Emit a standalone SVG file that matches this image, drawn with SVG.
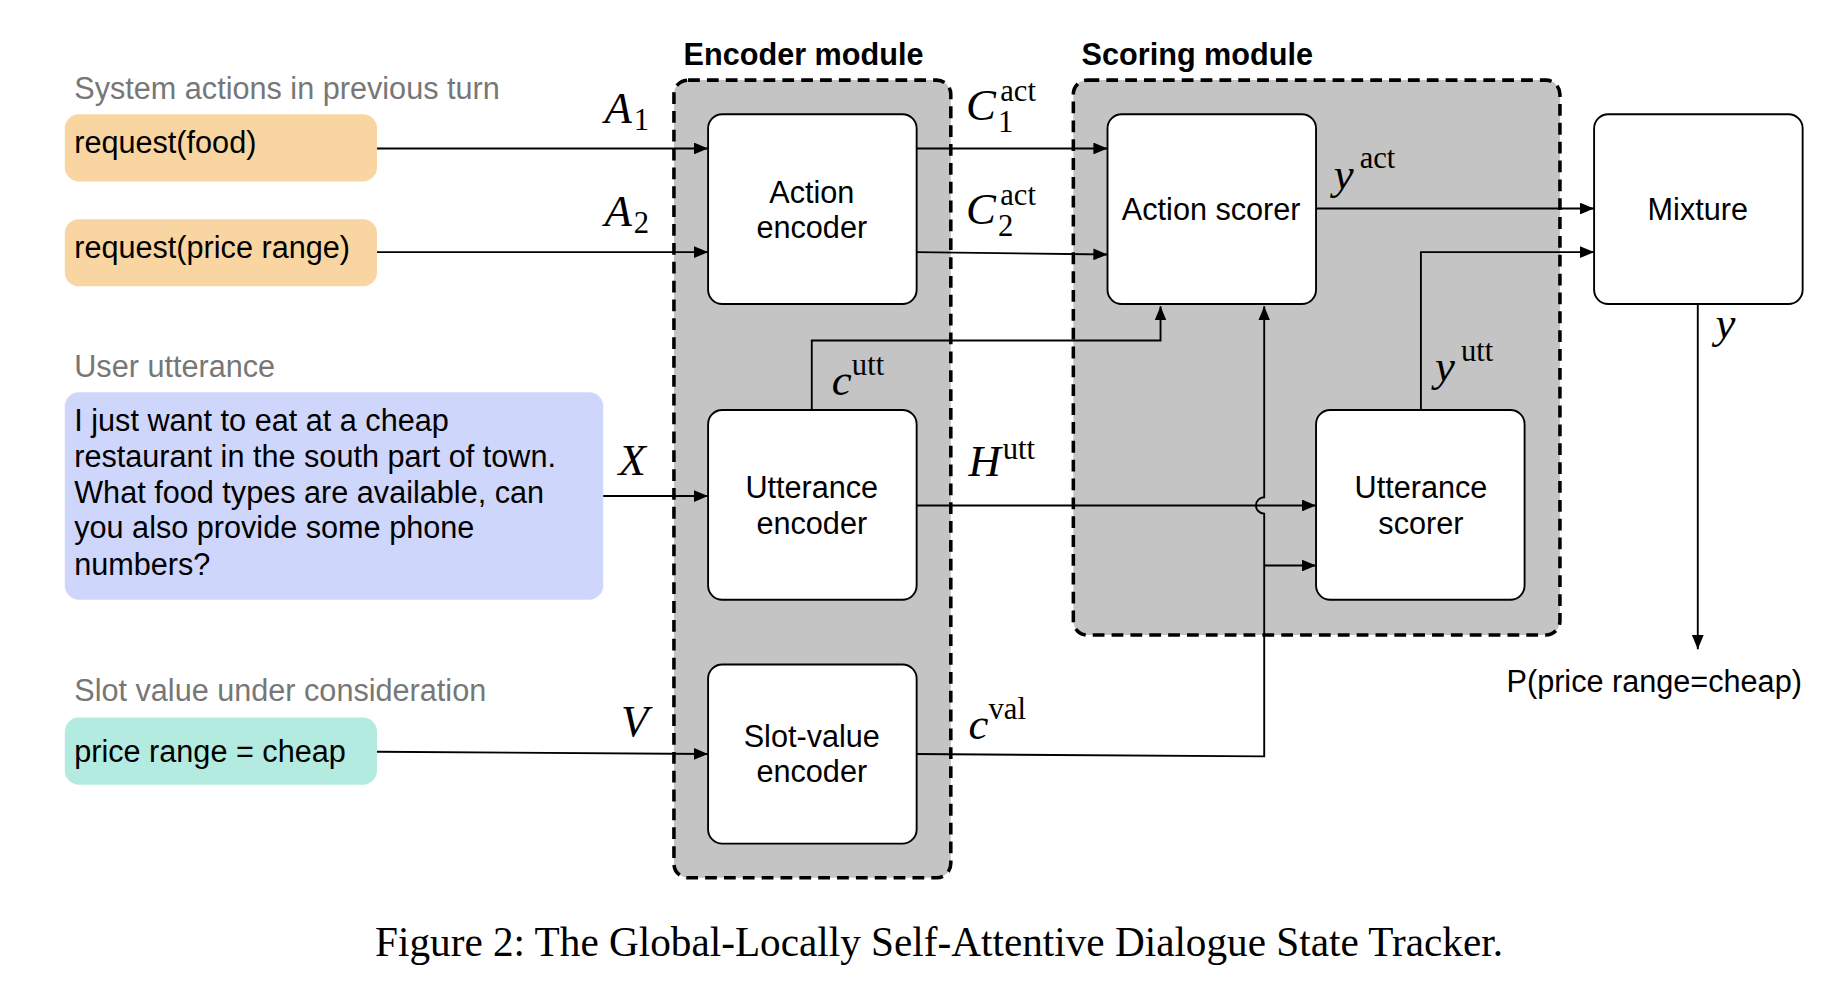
<svg xmlns="http://www.w3.org/2000/svg" width="1838" height="994" viewBox="0 0 1838 994">
<style>
.lbl{font-family:"Liberation Sans",Arial,sans-serif;font-size:26px;fill:#000}
.grey{font-family:"Liberation Sans",Arial,sans-serif;font-size:26px;fill:#777}
.title{font-family:"Liberation Sans",Arial,sans-serif;font-size:26px;font-weight:bold;fill:#000}
.node{fill:#fff;stroke:#000;stroke-width:1.6}
.mod{fill:#c4c4c4;stroke:#000;stroke-width:3;stroke-dasharray:10 6}
.m{font-family:"Liberation Serif","Times New Roman",serif;font-size:38px;font-style:italic;fill:#000}
.sup{font-family:"Liberation Serif","Times New Roman",serif;font-size:26px;fill:#000}
.ln{fill:none;stroke:#000;stroke-width:1.6}
.cap{font-family:"Liberation Serif","Times New Roman",serif;font-size:35px;fill:#000}
</style>
<defs>
<marker id="a" viewBox="0 0 12 10" refX="12" refY="5" markerWidth="12" markerHeight="10" markerUnits="userSpaceOnUse" orient="auto"><path d="M0,0 L12,5 L0,10 z" fill="#000"/></marker></defs>
<rect width="1838" height="994" fill="#fff"/>
<g transform="scale(1.1782)">
<g id="modules">
<rect class="mod" x="572" y="68" width="235" height="677" rx="12"/>
<text class="title" x="682" y="55" text-anchor="middle">Encoder module</text>
<rect class="mod" x="911" y="68" width="413" height="471" rx="12"/>
<text class="title" x="918" y="55">Scoring module</text>
</g>
<g id="inputs">
<text class="grey" x="63" y="84">System actions in previous turn</text>
<g id="in-food"><rect x="55" y="97" width="265" height="57" rx="12" fill="#f9d6a1"/><text class="lbl" x="63" y="130">request(food)</text></g>
<g id="in-price"><rect x="55" y="186" width="265" height="57" rx="12" fill="#f9d6a1"/><text class="lbl" x="63" y="219">request(price range)</text></g>
<text class="grey" x="63" y="320">User utterance</text>
<g id="in-utt"><rect x="55" y="333" width="457" height="176" rx="12" fill="#cfd6fb"/>
<text class="lbl" x="63" y="366">I just want to eat at a cheap</text>
<text class="lbl" x="63" y="396">restaurant in the south part of town.</text>
<text class="lbl" x="63" y="427">What food types are available, can</text>
<text class="lbl" x="63" y="457">you also provide some phone</text>
<text class="lbl" x="63" y="488">numbers?</text></g>
<text class="grey" x="63" y="595">Slot value under consideration</text>
<g id="in-slot"><rect x="55" y="609" width="265" height="57" rx="12" fill="#b3ebe1"/><text class="lbl" x="63" y="647">price range = cheap</text></g>
</g>
<g id="action-encoder"><rect class="node" x="601" y="97" width="177" height="161" rx="12"/><text class="lbl" x="689" y="172" text-anchor="middle">Action</text><text class="lbl" x="689" y="202" text-anchor="middle">encoder</text></g>
<g id="utterance-encoder"><rect class="node" x="601" y="348" width="177" height="161" rx="12"/><text class="lbl" x="689" y="423" text-anchor="middle">Utterance</text><text class="lbl" x="689" y="453" text-anchor="middle">encoder</text></g>
<g id="slot-value-encoder"><rect class="node" x="601" y="564" width="177" height="152" rx="12"/><text class="lbl" x="689" y="634" text-anchor="middle">Slot-value</text><text class="lbl" x="689" y="664" text-anchor="middle">encoder</text></g>
<g id="action-scorer"><rect class="node" x="940" y="97" width="177" height="161" rx="12"/><text class="lbl" x="1028" y="187" text-anchor="middle">Action scorer</text></g>
<g id="utterance-scorer"><rect class="node" x="1117" y="348" width="177" height="161" rx="12"/><text class="lbl" x="1206" y="423" text-anchor="middle">Utterance</text><text class="lbl" x="1206" y="453" text-anchor="middle">scorer</text></g>
<g id="mixture"><rect class="node" x="1353" y="97" width="177" height="161" rx="12"/><text class="lbl" x="1441" y="187" text-anchor="middle">Mixture</text></g>
<text class="lbl" x="1404" y="587" text-anchor="middle">P(price range=cheap)</text>
<g id="connectors">
<path class="ln" d="M320,126 H601" marker-end="url(#a)"/>
<path class="ln" d="M320,214 H601" marker-end="url(#a)"/>
<path class="ln" d="M512,421 H601" marker-end="url(#a)"/>
<path class="ln" d="M320,638 L601,640" marker-end="url(#a)"/>
<path class="ln" d="M778,126 H940" marker-end="url(#a)"/>
<path class="ln" d="M778,214 L940,216" marker-end="url(#a)"/>
<path class="ln" d="M689,348 V289 H985 V260" marker-end="url(#a)"/>
<path class="ln" d="M778,429 H1117" marker-end="url(#a)"/>
<path class="ln" d="M778,640 L1073,642 V436 A7,7 0 0 1 1073,422 V260" marker-end="url(#a)"/>
<path class="ln" d="M1073,480 H1117" marker-end="url(#a)"/>
<path class="ln" d="M1117,177 H1353" marker-end="url(#a)"/>
<path class="ln" d="M1206,348 V214 H1353" marker-end="url(#a)"/>
<path class="ln" d="M1441,258 V551" marker-end="url(#a)"/>
</g>
<g id="math">
<text class="m" x="513" y="104">A</text><text class="sup" x="538" y="110">1</text>
<text class="m" x="513" y="192">A</text><text class="sup" x="538" y="198">2</text>
<text class="m" x="525" y="403">X</text>
<text class="m" x="527" y="625">V</text>
<text class="m" x="820" y="102">C</text><text class="sup" x="849" y="86">act</text><text class="sup" x="847" y="112">1</text>
<text class="m" x="820" y="190">C</text><text class="sup" x="849" y="174">act</text><text class="sup" x="847" y="200">2</text>
<text class="m" x="706" y="335">c</text><text class="sup" x="723" y="318">utt</text>
<text class="m" x="822" y="404">H</text><text class="sup" x="851" y="390">utt</text>
<text class="m" x="822" y="627">c</text><text class="sup" x="839" y="610">val</text>
<text class="m" x="1132" y="160">y</text><text class="sup" x="1154" y="143">act</text>
<text class="m" x="1218" y="323">y</text><text class="sup" x="1240" y="306">utt</text>
<text class="m" x="1456" y="287">y</text>
</g>
<text class="cap" x="797" y="811" text-anchor="middle">Figure 2: The Global-Locally Self-Attentive Dialogue State Tracker.</text>
</g>
</svg>
